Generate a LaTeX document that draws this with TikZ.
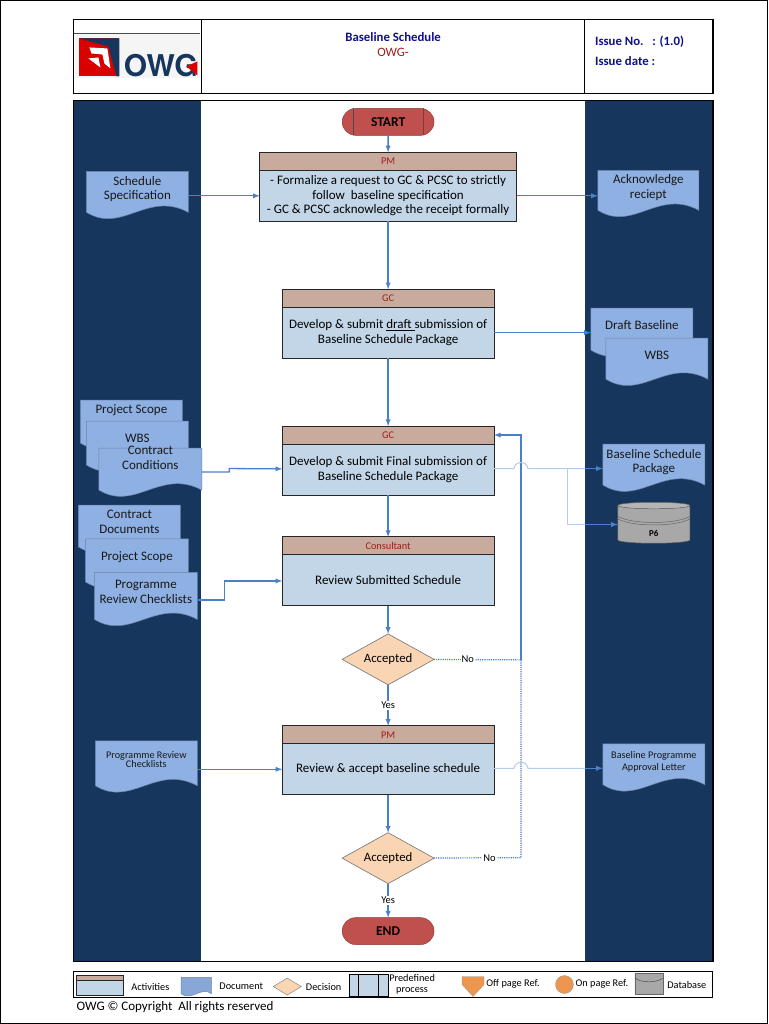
\documentclass[tikz,border=0pt]{standalone}
\usepackage{fontspec}
\setmainfont{Carlito}
\newfontfamily\logofont{TeX Gyre Heros}
\usetikzlibrary{arrows,shapes,calc,positioning}
\definecolor{bandNavy}{HTML}{17365D}
\definecolor{headBrown}{HTML}{C8AB9C}
\definecolor{bodyBlue}{HTML}{C3D6E8}
\definecolor{docBlue}{HTML}{8EB0E2}
\definecolor{flowBlue}{HTML}{4A7FCB}
\definecolor{lightFlow}{HTML}{B4CCEC}
\definecolor{termRed}{HTML}{C0504D}
\definecolor{diaPeach}{HTML}{FAD5B4}
\definecolor{refOrange}{HTML}{EC964F}
\definecolor{dbGray}{HTML}{A8A8A8}
\definecolor{titleBlue}{HTML}{10108C}
\definecolor{titleRed}{HTML}{A01C1C}
\tikzstyle{frame box}=[draw=black,line width=1.8pt]
\tikzstyle{activity head}=[rectangle,draw=black!85,line width=1pt,fill=headBrown,text=titleRed,font=\fontsize{10.3}{11}\selectfont,minimum height=18pt,inner sep=0pt,outer sep=0pt]
\tikzstyle{activity body}=[rectangle,draw=black!85,line width=1pt,fill=bodyBlue,font=\fontsize{13}{14.5}\selectfont,align=center,minimum height=51pt,inner sep=0pt,outer sep=0pt]
\tikzstyle{terminal}=[rounded rectangle,draw=termRed!70!black,fill=termRed,font=\fontsize{13.5}{14}\bfseries\selectfont,minimum width=92pt,minimum height=27pt,inner sep=0pt,outer sep=0pt]
\tikzstyle{decision}=[diamond,aspect=1.8,draw=black!55,line width=.6pt,fill=diaPeach,font=\fontsize{12.8}{14}\selectfont,minimum width=92pt,minimum height=51pt,inner sep=0pt,outer sep=0pt]
\tikzstyle{flow}=[draw=flowBlue,line width=1.3pt,->,>=latex]
\tikzstyle{flow dotted}=[draw=flowBlue,line width=1.2pt,densely dotted]
\tikzstyle{flow light}=[draw=lightFlow,line width=1pt]
\tikzstyle{edge label}=[fill=white,inner sep=1pt,font=\fontsize{10.5}{11}\selectfont]
\tikzstyle{legend label}=[font=\fontsize{10.3}{11.5}\selectfont,align=center,inner sep=0pt]
\tikzset{
  document/.style={rectangle,anchor=north west,inner sep=0pt,outer sep=0pt,minimum width=102pt,
    font=\fontsize{13}{14.5}\selectfont,align=center,text=black!90,
    append after command={\pgfextra{
      \draw[draw=docBlue!75!black,line width=.5pt,fill=docBlue]
        (\tikzlastnode.north west) -- ($(\tikzlastnode.north west)+(0,#1)$)
        .. controls ($(\tikzlastnode.north west)!.35!(\tikzlastnode.north east)+(0,#1+22)$)
        and ($(\tikzlastnode.north west)!.6!(\tikzlastnode.north east)+(0,#1-22)$)
        .. ($(\tikzlastnode.north east)+(0,#1)$) -- (\tikzlastnode.north east) -- cycle;
    }}},
  database/.style={cylinder,shape border rotate=90,aspect=.7,draw=black!60,line width=.5pt,
    cylinder uses custom fill,cylinder body fill=dbGray,cylinder end fill=dbGray!85!white,inner sep=0pt,outer sep=0pt}
}
\begin{document}
\begin{tikzpicture}[x=1pt,y=-1pt]
  \path[use as bounding box,draw=black,line width=1pt,fill=white] (0,0) rectangle (768,1024);

  % header
  \node[rectangle,frame box,minimum width=640pt,minimum height=74pt,inner sep=0pt] (headerBox) at (393,56) {};
  \draw[frame box,line width=1.4pt] (201,19) -- (201,93);
  \draw[frame box,line width=1pt] (585,19) -- (585,93);
  \fill[black!4] (75,34) rectangle (199.5,78);
  \draw[black!70,line width=1pt] (74,33.5) -- (200,33.5);
  \fill[red!85!black] (79,38) rectangle (119,76);
  \fill[bandNavy] (79,38) -- (119,38) -- (119,76) -- (116,76) -- (108,46) -- cycle;
  \fill[white] (89,47) -- (107,48) -- (110,68) -- (104,63) -- (102,54) -- (91,53) -- cycle;
  \fill[white] (88,58) -- (98,57) -- (100,67) -- cycle;
  \node[font=\logofont\bfseries\fontsize{30}{30}\selectfont,text=bandNavy,inner sep=0pt] (logoText) at (160.5,65) {OWG};
  \fill[red!85!black] (197,61) -- (197,75) -- (186,66) -- cycle;
  \node[text=titleBlue,font=\fontsize{12.8}{14}\bfseries\selectfont] (titleMain) at (393,37) {Baseline Schedule};
  \node[text=titleRed,font=\fontsize{12.8}{14}\selectfont] (titleSub) at (393,52) {OWG-};
  \node[text=titleBlue,font=\fontsize{12.8}{14}\bfseries\selectfont,anchor=west,inner sep=0pt] (issueNo) at (595,41) {Issue No.\ \ \ : (1.0)};
  \node[text=titleBlue,font=\fontsize{12.8}{14}\bfseries\selectfont,anchor=west,inner sep=0pt] (issueDate) at (595,61) {Issue date :};

  % bands
  \fill[bandNavy] (73,100) rectangle (201,962);
  \fill[bandNavy] (585,100) rectangle (713,962);
  \node[rectangle,frame box,minimum width=640pt,minimum height=862pt,inner sep=0pt] (mainBox) at (393,531) {};

  % main flow
  \node[terminal] (start) at (388,121.5) {START};
  \draw[draw=black!70,line width=.8pt] ($(start.north)+(-35,0)$) -- ($(start.south)+(-35,0)$);
  \draw[draw=termRed!70!black,line width=.8pt] ($(start.north)+(35,0)$) -- ($(start.south)+(35,0)$);

  \node[activity head,minimum width=257pt,below = 17pt of start] (pmHead) {PM};
  \node[activity body,minimum width=257pt,below = 0pt of pmHead] (pmBody) {- Formalize a request to GC \& PCSC to strictly\\follow\ \ baseline specification\\- GC \& PCSC acknowledge the receipt formally};

  \node[activity head,minimum width=212pt,below = 68pt of pmBody] (gcHead) {GC};
  \node[activity body,minimum width=212pt,below = 0pt of gcHead] (gcBody) {Develop \& submit \underline{draft\ }submission of\\Baseline Schedule Package};

  \node[activity head,minimum width=212pt,below = 68pt of gcBody] (finalHead) {GC};
  \node[activity body,minimum width=212pt,below = 0pt of finalHead] (finalBody) {Develop \& submit Final submission of\\Baseline Schedule Package};

  \node[activity head,minimum width=212pt,below = 42pt of finalBody] (reviewHead) {Consultant};
  \node[activity body,minimum width=212pt,below = 0pt of reviewHead] (reviewBody) {Review Submitted Schedule};

  \node[decision,below = 28pt of reviewBody] (acceptOne) {Accepted};

  \node[activity head,minimum width=212pt,below = 41pt of acceptOne] (acceptHead) {PM};
  \node[activity body,minimum width=212pt,below = 0pt of acceptHead] (acceptBody) {Review \& accept baseline schedule};

  \node[decision,below = 38pt of acceptBody] (acceptTwo) {Accepted};
  \node[terminal,below = 34pt of acceptTwo] (end) {END};

  % documents on the left
  \node[document=41,minimum height=35pt] (specDoc) at (86,171) {Schedule\\Specification};
  \node[document=43,minimum height=20pt] (scopeDocA) at (80,400) {Project Scope};
  \node[document=44,minimum height=34pt] (wbsDocA) at (86,421) {WBS};
  \node[document=42,minimum height=20pt,inner ysep=-4pt,minimum width=103pt] (condDoc) at (98.5,448) {Contract\\Conditions};
  \node[document=42,minimum height=34pt] (contractDoc) at (78,505) {Contract\\Documents};
  \node[document=43,minimum height=36pt,minimum width=103pt] (scopeDocB) at (85,539) {Project Scope};
  \node[document=47,minimum height=39pt,minimum width=103pt] (checkDocA) at (94,572.5) {Programme\\Review Checklists};
  \node[document=45,minimum height=38pt,font=\fontsize{10.2}{9.5}\selectfont] (checkDocB) at (95,741) {Programme Review\\Checklists};

  % documents on the right
  \node[document=40,minimum height=34pt,minimum width=101pt] (ackDoc) at (598,170) {Acknowledge\\reciept};
  \node[document=42,minimum height=34pt] (draftDoc) at (591,308) {Draft Baseline};
  \node[document=41,minimum height=34pt] (wbsDocB) at (606,338) {WBS};
  \node[document=41,minimum height=36pt] (packageDoc) at (603,444) {Baseline Schedule\\Package};
  \node[document=41,minimum height=36pt,font=\fontsize{10.2}{12}\selectfont] (letterDoc) at (603,744) {Baseline Programme\\Approval Letter};
  \node[database,minimum height=41pt,minimum width=72pt,font=\fontsize{9}{10}\bfseries\selectfont,text height=24pt,text depth=0pt] (pSix) at (654,524.5) {P6};
  \draw[black!60,line width=.5pt] ($(pSix.west)+(0,-8)$) .. controls +(15,8) and +(-15,8) .. ($(pSix.east)+(0,-8)$);
  \draw[black!60,line width=.5pt] ($(pSix.west)+(0,-5.5)$) .. controls +(15,8) and +(-15,8) .. ($(pSix.east)+(0,-5.5)$);

  % connectors
  \draw[flow] (start) -- (pmHead);
  \draw[flow] (pmBody) -- (gcHead);
  \draw[flow] (gcBody) -- (finalHead);
  \draw[flow] (finalBody) -- (reviewHead);
  \draw[flow] (reviewBody) -- (acceptOne);
  \draw[flow] (acceptOne) -- node[edge label] {Yes} (acceptHead);
  \draw[flow] (acceptBody) -- (acceptTwo);
  \draw[flow] (acceptTwo) -- node[edge label] {Yes} (end);

  \draw[flow] (specDoc.east |- pmBody) -- (pmBody);
  \draw[flow] (pmBody) -- (ackDoc.west |- pmBody);
  \draw[flow] (gcBody) -- (draftDoc.west |- gcBody);
  \draw[flow] (condDoc.east |- 0,472) -- (229,472) -- (229,468.5) -- (finalBody);
  \draw[flow] (checkDocA.east |- 0,600) -- (224,600) -- (224,581) -- (reviewBody.west |- 0,581);
  \draw[flow] (checkDocB.east |- acceptBody) -- (acceptBody);

  % rework loop
  \coordinate (loopTurn) at (521,660);
  \coordinate (loopLow) at (521,858);
  \draw[flow dotted] (acceptOne) -- node[edge label,pos=.39] {No} (loopTurn);
  \draw[flow dotted] (acceptTwo) -- node[edge label,pos=.64] {No} (loopLow) -- (loopTurn);
  \draw[flow] (loopTurn) -- (loopTurn |- finalHead) -- (finalHead);

  % light outputs with a hop over the loop
  \coordinate (finalHop) at (514,468.5);
  \coordinate (finalSplit) at (568,468.5);
  \coordinate (finalEdge) at (585,468.5);
  \coordinate (pSixCorner) at (568,524.5);
  \coordinate (pSixEdge) at (585,524.5);
  \draw[flow light] (finalBody) -- (finalHop) .. controls +(1,-8) and +(-1,-8) .. +(14,0) -- (finalEdge);
  \draw[flow] (finalEdge) -- (packageDoc.west |- finalEdge);
  \draw[flow light] (finalSplit) -- (pSixCorner) -- (pSixEdge);
  \draw[flow] (pSixEdge) -- (pSix.west);
  \coordinate (acceptHop) at (514,768.5);
  \coordinate (acceptEdge) at (585,768.5);
  \draw[flow light] (acceptBody) -- (acceptHop) .. controls +(1,-8) and +(-1,-8) .. +(14,0) -- (acceptEdge);
  \draw[flow] (acceptEdge) -- (letterDoc.west |- acceptEdge);

  % legend
  \node[rectangle,draw=black,line width=1.2pt,minimum width=640pt,minimum height=26pt,inner sep=0pt] (legendBox) at (393,985) {};
  \node[activity body,minimum width=47pt,minimum height=15.5pt,line width=.7pt] (legendBody) at (99.5,988.5) {};
  \node[activity head,minimum width=47pt,minimum height=5pt,line width=.7pt,above = 0pt of legendBody] (legendHead) {};
  \node[legend label] (legendActivities) at (150,987) {Activities};
  \node[rectangle,minimum width=30pt,minimum height=12pt,inner sep=0pt] (legendDoc) at (196,984) {};
  \draw[draw=docBlue!75!black,line width=.5pt,fill=docBlue!95!black] (legendDoc.north west) -- ($(legendDoc.south west)+(0,4)$)
    .. controls +(10,8) and +(-10,-8) .. ($(legendDoc.south east)+(0,4)$) -- (legendDoc.north east) -- cycle;
  \node[legend label] (legendDocument) at (241,987) {Document};
  \node[decision,minimum width=28pt,minimum height=17pt,line width=.4pt] (legendDecision) at (287,987) {};
  \node[legend label] (legendDecisionText) at (323.5,987) {Decision};
  \node[rectangle,draw=black,line width=.9pt,fill=bodyBlue,minimum width=39pt,minimum height=22pt,inner sep=0pt] (legendPre) at (368.5,986) {};
  \draw[black,line width=.9pt] ($(legendPre.north)+(-10,0)$) -- ($(legendPre.south)+(-10,0)$);
  \draw[black,line width=.9pt] ($(legendPre.north)+(10,0)$) -- ($(legendPre.south)+(10,0)$);
  \node[legend label] (legendPreText) at (412,984.5) {Predefined\\process};
  \fill[refOrange,draw=black!40,line width=.3pt] (462,977) -- (484,977) -- (484,985) -- (473,997) -- (462,985) -- cycle;
  \node[legend label] (legendOff) at (513,984) {Off page Ref.};
  \node[circle,draw=black!40,line width=.3pt,fill=refOrange,minimum size=18pt,inner sep=0pt] (legendOn) at (564.5,985) {};
  \node[legend label] (legendOnText) at (602,984) {On page Ref.};
  \node[database,minimum height=21pt,minimum width=28pt] (legendDb) at (649,984.5) {};
  \draw[black!70,line width=.5pt] ($(legendDb.west)+(0,-6)$) .. controls +(6,5) and +(-6,5) .. ($(legendDb.east)+(0,-6)$);
  \node[legend label] (legendDbText) at (687,985) {Database};
  \node[anchor=west,inner sep=0pt,font=\fontsize{13}{14}\selectfont] (copyright) at (76,1008) {OWG © Copyright\ \ All rights reserved};
\end{tikzpicture}
\end{document}
